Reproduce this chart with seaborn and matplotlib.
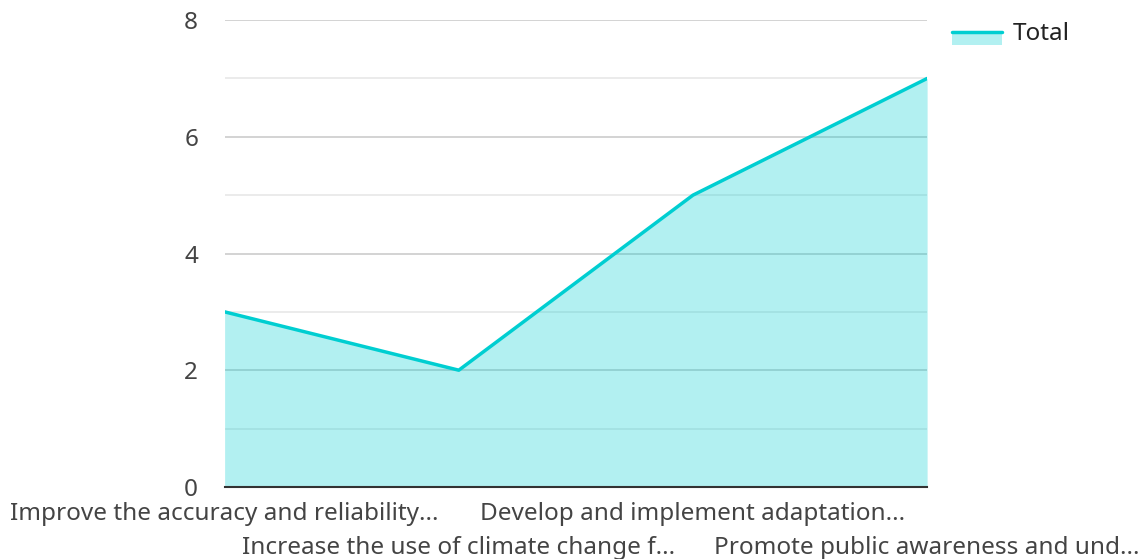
import numpy as np
import pandas as pd
import matplotlib.pyplot as plt
import seaborn as sns
from matplotlib.lines import Line2D
from matplotlib.patches import Rectangle
from matplotlib.ticker import MultipleLocator

# 데이터
categories = [
    "Improve the accuracy and reliability...",
    "Increase the use of climate change f...",
    "Develop and implement adaptation...",
    "Promote public awareness and und...",
]
totals = [3, 2, 5, 7]

line_color = "#00CED1"
text_color = "#444444"
font_size = 17.5


class AreaHandler:
    """범례: 위쪽 선 + 아래 채움"""
    def legend_artist(self, legend, orig_handle, fontsize, handlebox):
        x0, y0 = handlebox.xdescent, handlebox.ydescent
        w, h = handlebox.width, handlebox.height
        patch = Rectangle((x0, y0 - h * 0.25), w, h * 0.75, facecolor=line_color,
                          alpha=0.3, edgecolor="none", transform=handlebox.get_transform())
        line = Line2D([x0, x0 + w], [y0 + h * 0.5, y0 + h * 0.5], color=line_color,
                      linewidth=2.5, transform=handlebox.get_transform())
        handlebox.add_artist(patch)
        handlebox.add_artist(line)
        return line


sns.set_theme(style="white")
plt.rcParams['font.family'] = ['Noto Sans', 'DejaVu Sans']

df = pd.DataFrame({"x": np.arange(len(categories)), "Total": totals})

fig = plt.figure(figsize=(11.46, 5.59), dpi=100)
ax = fig.add_axes([0.196, 0.129, 0.613, 0.835])

ax.fill_between(df["x"], df["Total"], 0, color=line_color, alpha=0.3, linewidth=0, zorder=2)
sns.lineplot(data=df, x="x", y="Total", color=line_color, linewidth=2.5, ax=ax, zorder=3)

ax.set_xlim(0, len(categories) - 1)
ax.set_ylim(0, 8)
ax.yaxis.set_major_locator(MultipleLocator(2))
ax.yaxis.set_minor_locator(MultipleLocator(1))
ax.grid(which="major", axis="y", color="#cccccc", linewidth=1.2, zorder=0)
ax.grid(which="minor", axis="y", color="#e8e8e8", linewidth=1.2, zorder=0)
ax.grid(False, axis="x")

ax.set_xticks(df["x"])
ax.set_xticklabels(categories, fontsize=font_size, color=text_color)
ax.tick_params(axis="x", length=0, pad=11)
ax.tick_params(axis="y", which="both", length=0, pad=19, labelsize=font_size, labelcolor=text_color)

# 엇갈린 x 라벨 (홀수 라벨은 한 줄 아래로)
for i, tick in enumerate(ax.xaxis.get_major_ticks()):
    if i % 2 == 1:
        tick.set_pad(11 + 24)

for side in ["top", "right", "left"]:
    ax.spines[side].set_visible(False)
ax.spines["bottom"].set_color("#333333")
ax.spines["bottom"].set_linewidth(1.5)
ax.set_xlabel("")
ax.set_ylabel("")

ax.legend([object()], ["Total"], handler_map={object: AreaHandler()},
          loc="upper left", bbox_to_anchor=(1.036, 0.995), borderpad=0, borderaxespad=0,
          frameon=False, fontsize=font_size, handlelength=2.05, handletextpad=0.42,
          labelcolor="#222222")

fig.savefig("out.png", dpi=100)
